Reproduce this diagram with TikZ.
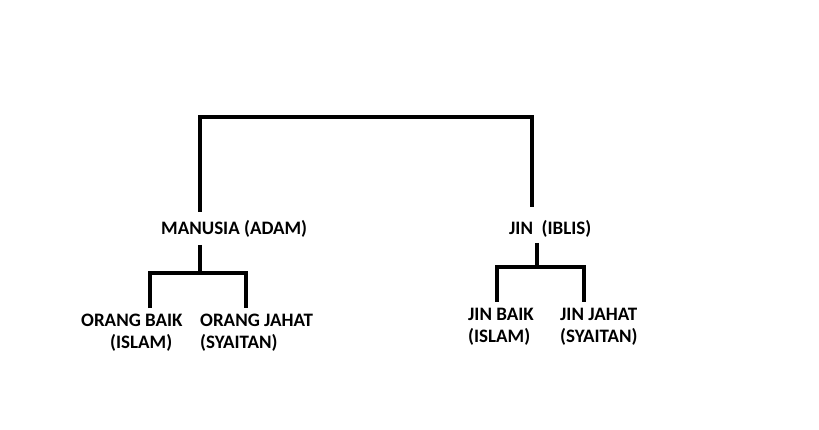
\documentclass[tikz,border=0pt]{standalone}
\usepackage{fontspec}
\setmainfont{Carlito}
\begin{document}
\begin{tikzpicture}[x=1pt,y=-1pt,
  lbl/.style={font=\bfseries\fontsize{19}{22}\selectfont,inner sep=0pt,align=left},
  ln/.style={line width=4pt}]
\useasboundingbox[fill=white] (0,0) rectangle (819,430);
\node[lbl,anchor=west] (m) at (161,229) {MANUSIA (ADAM)};
\node[lbl,anchor=west] (j) at (509,229) {JIN~ (IBLIS)};
\node[lbl,anchor=north west] (ob) at (81,314) {ORANG BAIK\\\hspace*{29pt}(ISLAM)};
\node[lbl,anchor=north west] (oj) at (200,314) {ORANG JAHAT\\(SYAITAN)};
\node[lbl,anchor=north west] (jb) at (468,308) {JIN BAIK\\(ISLAM)};
\node[lbl,anchor=north west] (jj) at (560,308) {JIN JAHAT\\(SYAITAN)};
\coordinate (mt) at (200,212);
\coordinate (jt) at (532,207);
\draw[ln] (mt) |- (332,117) -| (jt);
\coordinate (mb) at (200,245);
\draw[ln] (mb) -- (200,273);
\draw[ln] (150,308) |- (246,273) -- (246,308);
\coordinate (jbm) at (537,243);
\draw[ln] (jbm) -- (537,267);
\draw[ln] (497,302) |- (584,267) -- (584,302);
\end{tikzpicture}
\end{document}
